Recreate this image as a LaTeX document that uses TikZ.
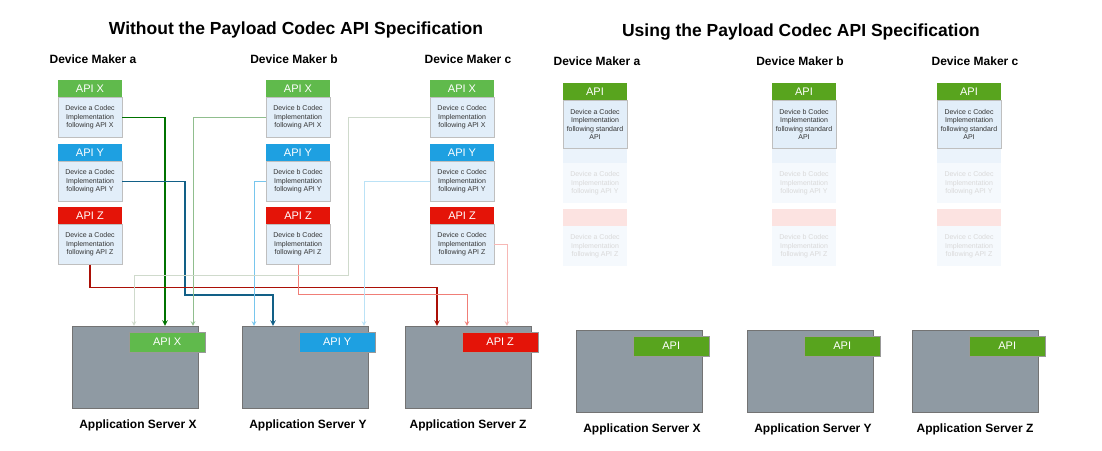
\documentclass[tikz,border=0pt]{standalone}
\usepackage{fontspec}
\setmainfont{Liberation Sans}
\usetikzlibrary{arrows, positioning, calc}
\definecolor{apix}{RGB}{96,186,76}
\definecolor{apistd}{RGB}{88,164,30}
\definecolor{apiy}{RGB}{30,160,225}
\definecolor{apiz}{RGB}{228,20,8}
\definecolor{codec}{RGB}{226,238,249}
\definecolor{srv}{RGB}{143,154,163}
\tikzset{hdr/.style = {
  % header of a codec
  rectangle, minimum width=64pt, minimum height=17pt, inner sep=0pt,
  text=white, font=\fontsize{11}{12}\selectfont
  }}
\tikzset{body/.style = {
  % codec implementation
  rectangle, fill=codec, draw=black!25, minimum width=64pt,
  minimum height=40pt, inner sep=0pt, align=center, text=black!80,
  font=\fontsize{7}{8.5}\selectfont
  }}
\tikzset{faded/.style = {
  body, draw=none, fill=codec!35, text=black!15
  }}
\tikzset{server/.style = {
  rectangle, fill=srv, draw=black!55, minimum width=126pt, minimum height=82pt
  }}
\tikzset{tag/.style = {
  rectangle, minimum width=76pt, minimum height=20pt, inner sep=0pt,
  text=white, draw=black!40, font=\fontsize{11}{12}\selectfont
  }}
\tikzset{lbl/.style = {font=\bfseries\fontsize{12}{14}\selectfont}}
\tikzset{ttl/.style = {font=\bfseries\fontsize{17.5}{20}\selectfont}}
\tikzset{link/.style = {->, >=stealth, line width=1.4pt, rounded corners=0pt}}
\begin{document}
\begin{tikzpicture}[x=1pt, y=-1pt]
\useasboundingbox (0,0) rectangle (1102,450);

% TITLES
\node (t1) [ttl] at (296,30) {Without the Payload Codec API Specification};
\node (t2) [ttl] at (801,32) {Using the Payload Codec API Specification};

% DEVICE MAKERS (left)
\foreach \d/\x/\lx in {a/90/93, b/298/294, c/462/468}{
  \node (\d lbl) [lbl] at (\lx,59) {Device Maker \MakeUppercase{\d}};
  \node (\d X) [hdr, fill=apix] at (\x,88.5) {API X};
  \node (\d Xb) [body, below=0pt of \d X] {Device \MakeUppercase{\d} Codec\\Implementation\\following API X};
  \node (\d Y) [hdr, fill=apiy] at (\x,152.5) {API Y};
  \node (\d Yb) [body, below=0pt of \d Y] {Device \MakeUppercase{\d} Codec\\Implementation\\following API Y};
  \node (\d Z) [hdr, fill=apiz] at (\x,215.5) {API Z};
  \node (\d Zb) [body, below=0pt of \d Z] {Device \MakeUppercase{\d} Codec\\Implementation\\following API Z};
}

% DEVICE MAKERS (right)
\foreach \d/\x/\lx in {a/595/597, b/804/800, c/969/975}{
  \node (r\d lbl) [lbl] at (\lx,61) {Device Maker \MakeUppercase{\d}};
  \node (r\d S) [hdr, fill=apistd] at (\x,91.5) {API};
  \node (r\d Sb) [body, minimum height=48pt, below=0pt of r\d S] {Device \MakeUppercase{\d} Codec\\Implementation\\following standard\\API};
  \node (r\d Y) [faded, fill=codec!70, minimum height=14pt, below=0pt of r\d Sb] {};
  \node (r\d Yb) [faded, minimum height=40pt, below=0pt of r\d Y] {Device \MakeUppercase{\d} Codec\\Implementation\\following API Y};
  \node (r\d Z) [faded, fill=apiz!12, minimum height=17pt] at (\x,217.5) {};
  \node (r\d Zb) [faded, below=0pt of r\d Z] {Device \MakeUppercase{\d} Codec\\Implementation\\following API Z};
}

% SERVERS (left)
\foreach \s/\x/\c/\lx in {X/135/apix/138, Y/305/apiy/308, Z/468/apiz/468}{
  \node (s\s) [server] at (\x,367) {};
  \node (s\s tag) [tag, fill=\c] at ($(s\s.north east)+(-31pt,-16pt)$) {API \s};
  \node (s\s lbl) [lbl] at (\lx,425) {Application Server \s};
}

% SERVERS (right)
\foreach \s/\x/\lx in {X/639/642, Y/810/813, Z/975/975}{
  \node (r\s) [server] at (\x,371) {};
  \node (r\s tag) [tag, fill=apistd] at ($(r\s.north east)+(-31pt,-16pt)$) {API};
  \node (r\s lbl) [lbl] at (\lx,429) {Application Server \s};
}

% arrows
\draw [link, draw=green!45!black] (aXb.east) -| ([xshift=30pt]sX.north);
\draw [link, draw=apiy!60!black] (aYb.east) -| (185,295) -| ([xshift=-32pt]sY.north);
\draw [link, draw=apiz!75!black] (aZb.south) -- ++(0,23) -| ([xshift=-31pt]sZ.north);
\draw [link, line width=1pt, draw=apix!40!green!35!gray!70] (bXb.west) -| ([xshift=58pt]sX.north);
\draw [link, line width=1pt, draw=apiy!60] (bYb.west) -| ([xshift=-51pt]sY.north);
\draw [link, line width=1pt, draw=apiz!55] (bZb.south) -- ++(0,30) -| ([xshift=-1pt]sZ.north);
\draw [link, line width=1pt, draw=apix!35!gray!35] (cXb.west) -| (348,275) -| ([xshift=-1pt]sX.north);
\draw [link, line width=1pt, draw=apiy!30] (cYb.west) -| ([xshift=59pt]sY.north);
\draw [link, line width=1pt, draw=apiz!30] (cZb.east) -| ([xshift=39pt]sZ.north);
\end{tikzpicture}
\end{document}
